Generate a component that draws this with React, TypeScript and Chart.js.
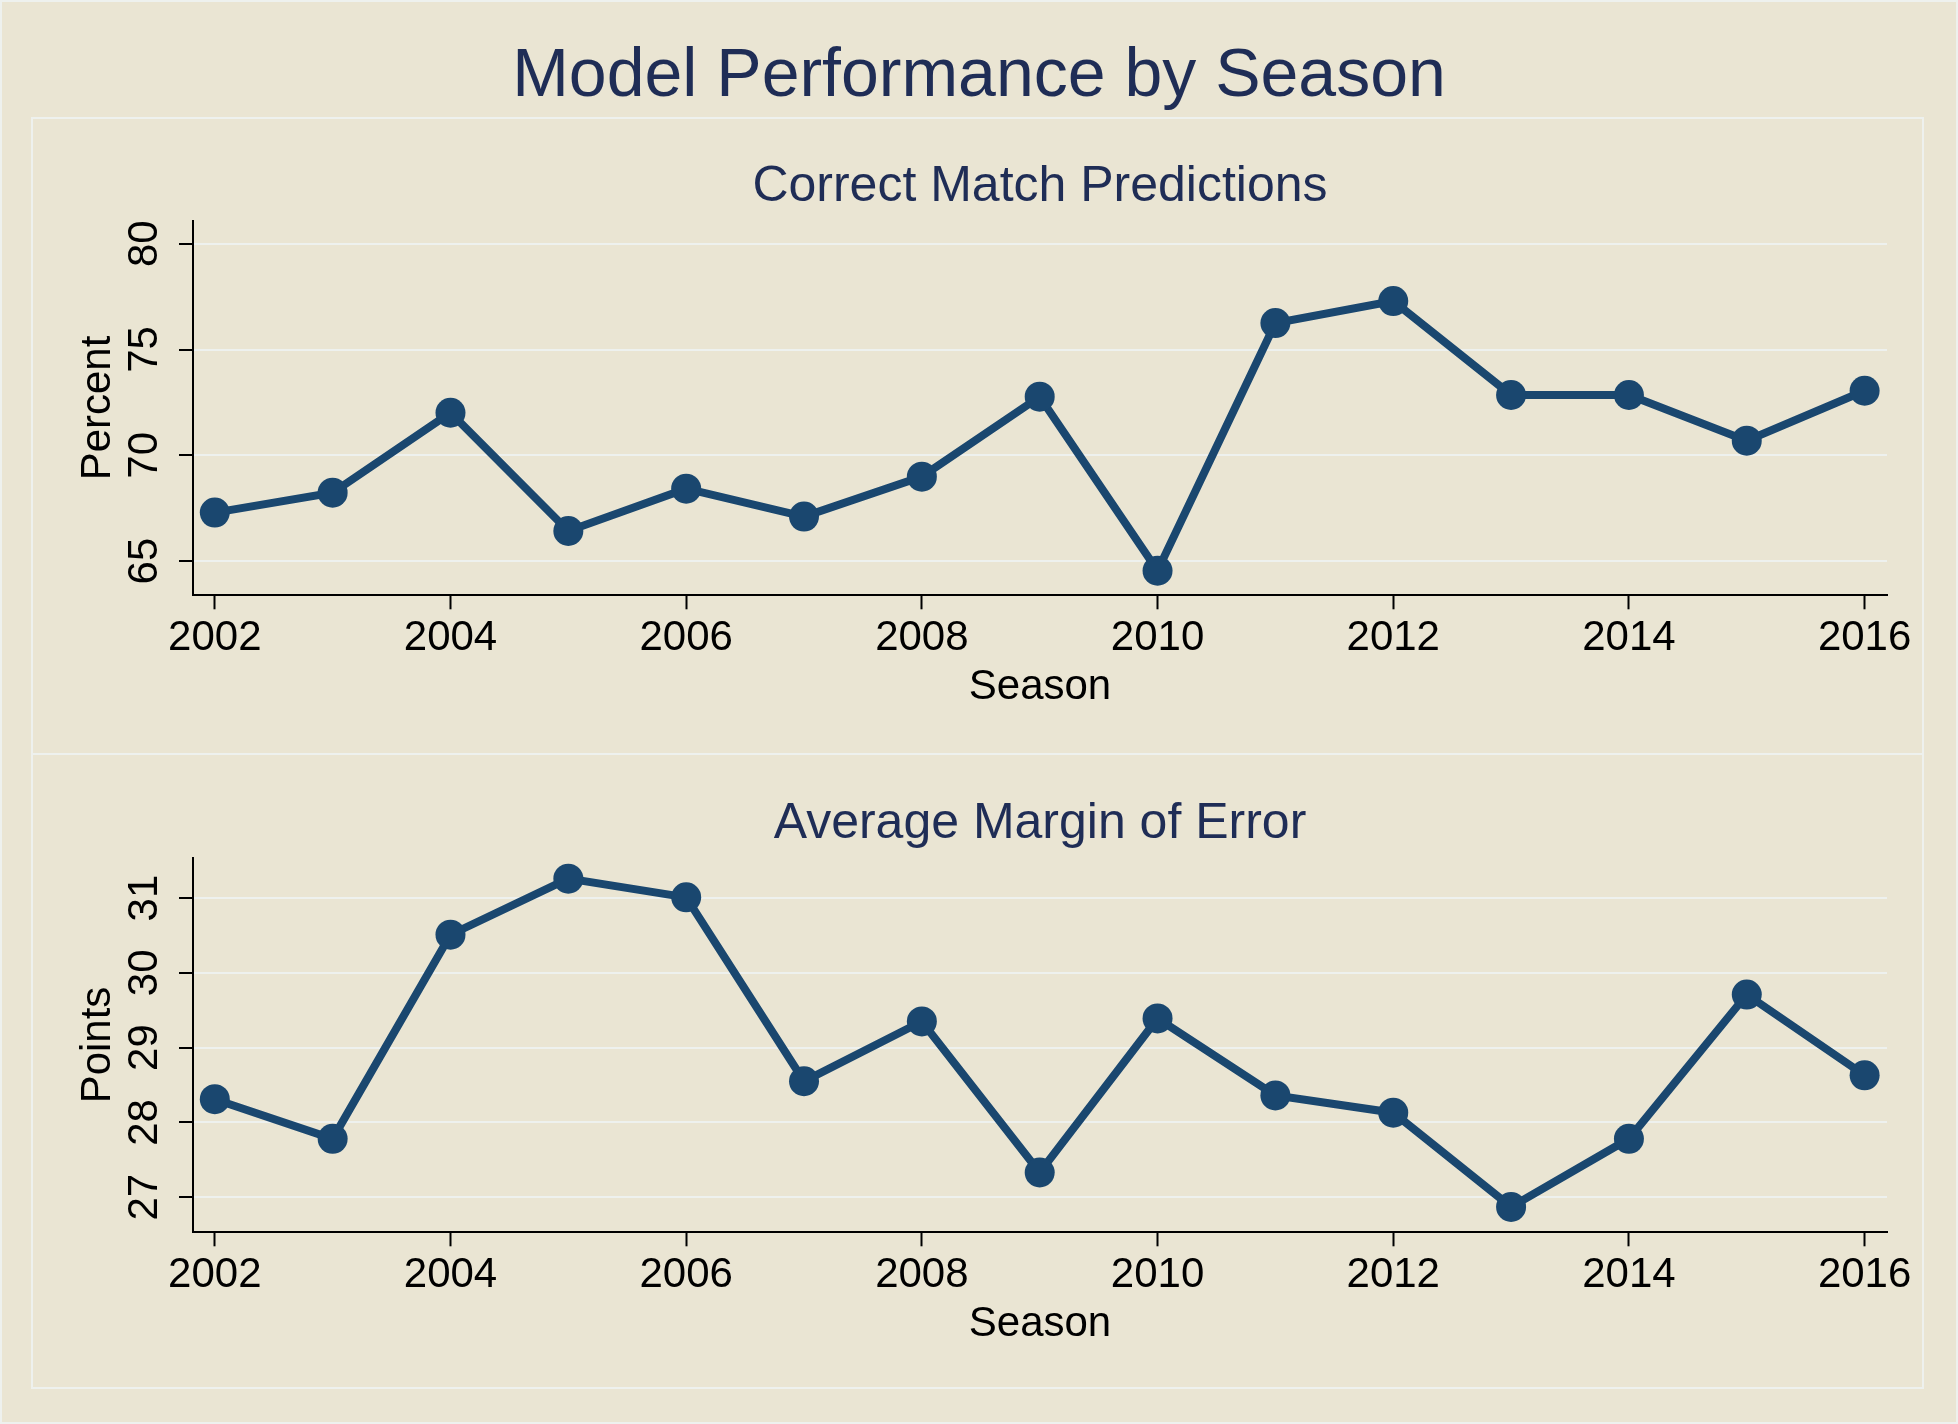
import { useEffect, useRef } from "react"
import { Chart, registerables } from "chart.js"

Chart.register(...registerables)

// datos
const seasons = [2002, 2003, 2004, 2005, 2006, 2007, 2008, 2009, 2010, 2011, 2012, 2013, 2014, 2015, 2016]
const correctPercent = [67.29, 68.23, 72.01, 66.42, 68.42, 67.1, 68.99, 72.77, 64.54, 76.25, 77.29, 72.85, 72.85, 70.69, 73.05]
const marginPoints = [28.31, 27.78, 30.51, 31.26, 31.01, 28.55, 29.35, 27.33, 29.39, 28.36, 28.13, 26.87, 27.78, 29.71, 28.63]

const seasonTicks = [2002, 2004, 2006, 2008, 2010, 2012, 2014, 2016]
const percentTicks = [65, 70, 75, 80]
const pointsTicks = [27, 28, 29, 30, 31]

const NAVY = "#1a476f"
const TITLE_COLOR = "#1f2d56"
const BG = "#eae5d3"
const FRAME = "#eef1ee"
const FONT = "'Liberation Sans', Arial, Helvetica, sans-serif"

const WIDTH = 1958
const PANEL_HEIGHT = 637

interface PanelProps {
  title: string
  yLabel: string
  values: number[]
  yTicks: number[]
  yMin: number
  yMax: number
  top: number
}

function Panel({ title, yLabel, values, yTicks, yMin, yMax, top }: PanelProps) {
  const chartRef = useRef<HTMLCanvasElement>(null)
  const chartInstance = useRef<Chart | null>(null)

  useEffect(() => {
    if (!chartRef.current) return
    if (chartInstance.current) chartInstance.current.destroy()
    const ctx = chartRef.current.getContext("2d")
    if (!ctx) return

    chartInstance.current = new Chart(ctx, {
      type: "line",
      data: {
        datasets: [
          {
            data: seasons.map((s, i) => ({ x: s, y: values[i] })),
            borderColor: NAVY,
            backgroundColor: NAVY,
            borderWidth: 8,
            pointRadius: 15,
            pointBackgroundColor: NAVY,
            pointBorderWidth: 0,
            tension: 0,
          },
        ],
      },
      options: {
        animation: false,
        responsive: false,
        devicePixelRatio: 1,
        layout: { padding: { left: 0, right: 71, top: 0, bottom: 0 } },
        plugins: {
          legend: { display: false },
          tooltip: { enabled: false },
          title: {
            display: true,
            text: title,
            color: TITLE_COLOR,
            fullSize: false,
            font: { family: FONT, size: 50, weight: "normal" },
            padding: { top: 39.8, bottom: 3.9 },
          },
        },
        scales: {
          x: {
            type: "linear",
            position: "bottom",
            min: 2001.815,
            max: 2016.19,
            afterBuildTicks: (scale: any) => {
              scale.ticks = seasonTicks.map((v) => ({ value: v }))
            },
            afterFit: (scale: any) => {
              scale.height = 158.7
            },
            ticks: {
              callback: (v: any) => String(v),
              color: "#000",
              font: { family: FONT, size: 42 },
              padding: 4.2,
              maxRotation: 0,
              autoSkip: false,
            },
            grid: { drawOnChartArea: false, tickLength: 14, tickColor: "#000", tickWidth: 2 },
            border: { display: true, color: "#000", width: 2 },
            title: {
              display: true,
              text: "Season",
              color: "#000",
              font: { family: FONT, size: 42 },
              padding: { top: 0, bottom: 41.8 },
            },
          },
          y: {
            type: "linear",
            min: yMin,
            max: yMax,
            afterBuildTicks: (scale: any) => {
              scale.ticks = yTicks.map((v) => ({ value: v }))
            },
            afterFit: (scale: any) => {
              scale.width = 193
            },
            ticks: {
              callback: (v: any) => String(v),
              color: "#000",
              font: { family: FONT, size: 42 },
              minRotation: 90,
              maxRotation: 90,
              crossAlign: "center",
              padding: 10,
              autoSkip: false,
            },
            grid: { color: FRAME, lineWidth: 2, tickLength: 14, tickColor: "#000", tickWidth: 2 },
            border: { display: true, color: "#000", width: 2 },
            title: {
              display: true,
              text: yLabel,
              color: "#000",
              font: { family: FONT, size: 42 },
              padding: { top: 72.8, bottom: 0 },
            },
          },
        },
      },
    } as any)

    return () => {
      if (chartInstance.current) chartInstance.current.destroy()
    }
  }, [title, yLabel, values, yTicks, yMin, yMax])

  return (
    <canvas
      ref={chartRef}
      width={WIDTH}
      height={PANEL_HEIGHT}
      style={{ position: "absolute", left: 0, top, width: WIDTH, height: PANEL_HEIGHT }}
    />
  )
}

export default function App() {
  return (
    <div
      style={{
        position: "absolute",
        left: 0,
        top: 0,
        width: WIDTH,
        height: 1424,
        background: BG,
        boxSizing: "border-box",
        border: `2px solid ${FRAME}`,
        overflow: "hidden",
      }}
    >
      <div
        style={{
          position: "absolute",
          left: 0,
          top: 36.1,
          width: WIDTH - 4,
          textAlign: "center",
          fontFamily: FONT,
          fontSize: 68,
          lineHeight: "68px",
          color: TITLE_COLOR,
        }}
      >
        Model Performance by Season
      </div>
      {/* marco interior y separador */}
      <div
        style={{
          position: "absolute",
          left: 29,
          top: 115,
          width: 1893,
          height: 1272,
          boxSizing: "border-box",
          border: `2px solid ${FRAME}`,
        }}
      />
      <div style={{ position: "absolute", left: 29, top: 751, width: 1893, height: 2, background: FRAME }} />
      <div style={{ position: "absolute", left: -2, top: -2, width: WIDTH, height: 1424 }}>
        <Panel
          title="Correct Match Predictions"
          yLabel="Percent"
          values={correctPercent}
          yTicks={percentTicks}
          yMin={63.38}
          yMax={81.09}
          top={117}
        />
        <Panel
          title="Average Margin of Error"
          yLabel="Points"
          values={marginPoints}
          yTicks={pointsTicks}
          yMin={26.53}
          yMax={31.54}
          top={754}
        />
      </div>
    </div>
  )
}
